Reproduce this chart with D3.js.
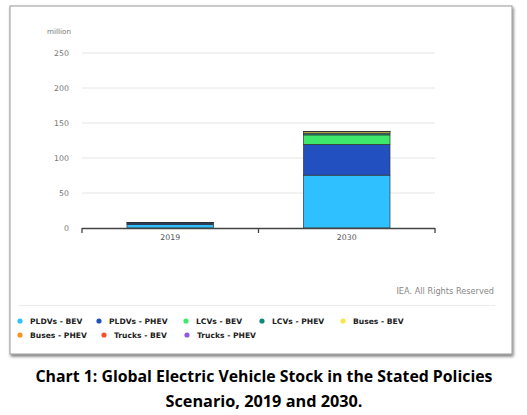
<!DOCTYPE html>
<html><head><meta charset="utf-8">
<script src="https://cdn.jsdelivr.net/npm/d3@7"></script>
<style>body{margin:0;background:#fff}svg{display:block}</style>
</head><body>
<script>
const years = ["2019", "2030"];
const seriesNames = ["PLDVs - BEV","PLDVs - PHEV","LCVs - BEV","LCVs - PHEV","Buses - BEV","Buses - PHEV","Trucks - BEV","Trucks - PHEV"];
const seriesColors = ["#2ec0ff","#2350c0","#3ee86a","#0f8a7c","#f6e64a","#f7931e","#f4512c","#8f5be0"];
const pldvBev  = [4.8, 75.5];
const pldvPhev = [2.3, 44];
const lcvBev   = [0.38, 13.5];
const lcvPhev  = [0.02, 2.5];
const busBev   = [0.5, 2];
const busPhev  = [0.03, 0.2];
const truckBev = [0.01, 0.3];
const truckPhev= [0.0, 0.1];
const yTicks = [0, 50, 100, 150, 200, 250];

const seriesValues = [pldvBev, pldvPhev, lcvBev, lcvPhev, busBev, busPhev, truckBev, truckPhev];
const table = years.map((y, i) => {
  const row = {year: y};
  seriesNames.forEach((s, j) => row[s] = seriesValues[j][i]);
  return row;
});

const W = 527, H = 415;
const svg = d3.select("body").append("svg").attr("width", W).attr("height", H);

// frame with shadow
const defs = svg.append("defs");
const f = defs.append("filter").attr("id","sh").attr("x","-5%").attr("y","-5%").attr("width","110%").attr("height","110%");
f.append("feDropShadow").attr("dx",1).attr("dy",2).attr("stdDeviation",1.5).attr("flood-color","#000").attr("flood-opacity",0.55);
svg.append("rect").attr("x",10).attr("y",6).attr("width",502).attr("height",348)
  .attr("fill","#fff").attr("stroke","#9a9a9a").attr("stroke-width",1).attr("filter","url(#sh)");

const x = d3.scaleBand().domain(years).range([82, 435]).paddingInner(0.51).paddingOuter(0.255);
const y = d3.scaleLinear().domain([0, 250]).range([228, 53]);

const font = "'DejaVu Sans', sans-serif";

// gridlines
svg.append("g").selectAll("line").data(yTicks.filter(d => d > 0)).join("line")
  .attr("x1", 82).attr("x2", 435).attr("y1", d => y(d)).attr("y2", d => y(d))
  .attr("stroke", "#e6e6e6").attr("stroke-width", 1);

// y axis labels
const yAxis = d3.axisLeft(y).tickValues(yTicks).tickSize(0).tickPadding(0);
const gy = svg.append("g").attr("transform", "translate(69,0)").call(yAxis);
gy.select(".domain").remove();
gy.selectAll("text").attr("font-family", font).attr("font-size", 7.8).attr("fill", "#777");

svg.append("text").attr("x", 47).attr("y", 34).text("million")
  .attr("font-family", font).attr("font-size", 7.2).attr("fill", "#777");

// stacked bars
const stack = d3.stack().keys(seriesNames)(table);
const color = d3.scaleOrdinal().domain(seriesNames).range(seriesColors);
svg.append("g").selectAll("g").data(stack).join("g")
  .attr("fill", d => color(d.key))
  .selectAll("rect").data(d => d).join("rect")
  .attr("x", d => x(d.data.year))
  .attr("width", x.bandwidth())
  .attr("y", d => y(d[1]))
  .attr("height", d => Math.max(0, y(d[0]) - y(d[1])))
  .attr("stroke", "#333").attr("stroke-width", 0.7);

// x axis
const xAxis = d3.axisBottom(x).tickSize(0).tickPadding(6);
const gx = svg.append("g").attr("transform", "translate(0,228)").call(xAxis);
gx.select(".domain").remove();
gx.selectAll("text").attr("font-family", font).attr("font-size", 7.8).attr("fill", "#555");
svg.append("line").attr("x1", 82).attr("x2", 435).attr("y1", 228.5).attr("y2", 228.5).attr("stroke", "#444").attr("stroke-width", 1.3);
svg.append("g").selectAll("line").data([82, 82 + (435-82)/2, 435]).join("line")
  .attr("x1", d => d).attr("x2", d => d).attr("y1", 228).attr("y2", 233)
  .attr("stroke", "#444").attr("stroke-width", 1.3);

// credit
svg.append("text").attr("x", 494).attr("y", 294).attr("text-anchor", "end")
  .text("IEA. All Rights Reserved").attr("font-family", font).attr("font-size", 8.2).attr("fill", "#888");
svg.append("line").attr("x1", 18).attr("x2", 495).attr("y1", 305.5).attr("y2", 305.5).attr("stroke", "#ececec");

// legend
const legendPos = [
  [20, 321], [99, 321], [186, 321], [262, 321], [343, 321],
  [20, 335], [104, 335], [187, 335]
];
const lg = svg.append("g").selectAll("g").data(seriesNames).join("g")
  .attr("transform", (d, i) => `translate(${legendPos[i][0]},${legendPos[i][1]})`);
lg.append("circle").attr("r", 2.6).attr("fill", d => color(d));
lg.append("text").attr("x", 10).attr("dy", "0.35em").text(d => d)
  .attr("font-family", font).attr("font-size", 7.6).attr("font-weight", 700).attr("fill", "#222");

// caption
const cap = svg.append("g").attr("font-family", "'Open Sans', sans-serif").attr("font-weight", 700).attr("font-size", 15.5).attr("fill", "#000").attr("text-anchor", "middle");
cap.append("text").attr("x", 264).attr("y", 382).text("Chart 1: Global Electric Vehicle Stock in the Stated Policies")
  .attr("textLength", 457).attr("lengthAdjust", "spacingAndGlyphs");
cap.append("text").attr("x", 264).attr("y", 407).text("Scenario, 2019 and 2030.")
  .attr("textLength", 197).attr("lengthAdjust", "spacingAndGlyphs");
</script>
</body></html>
